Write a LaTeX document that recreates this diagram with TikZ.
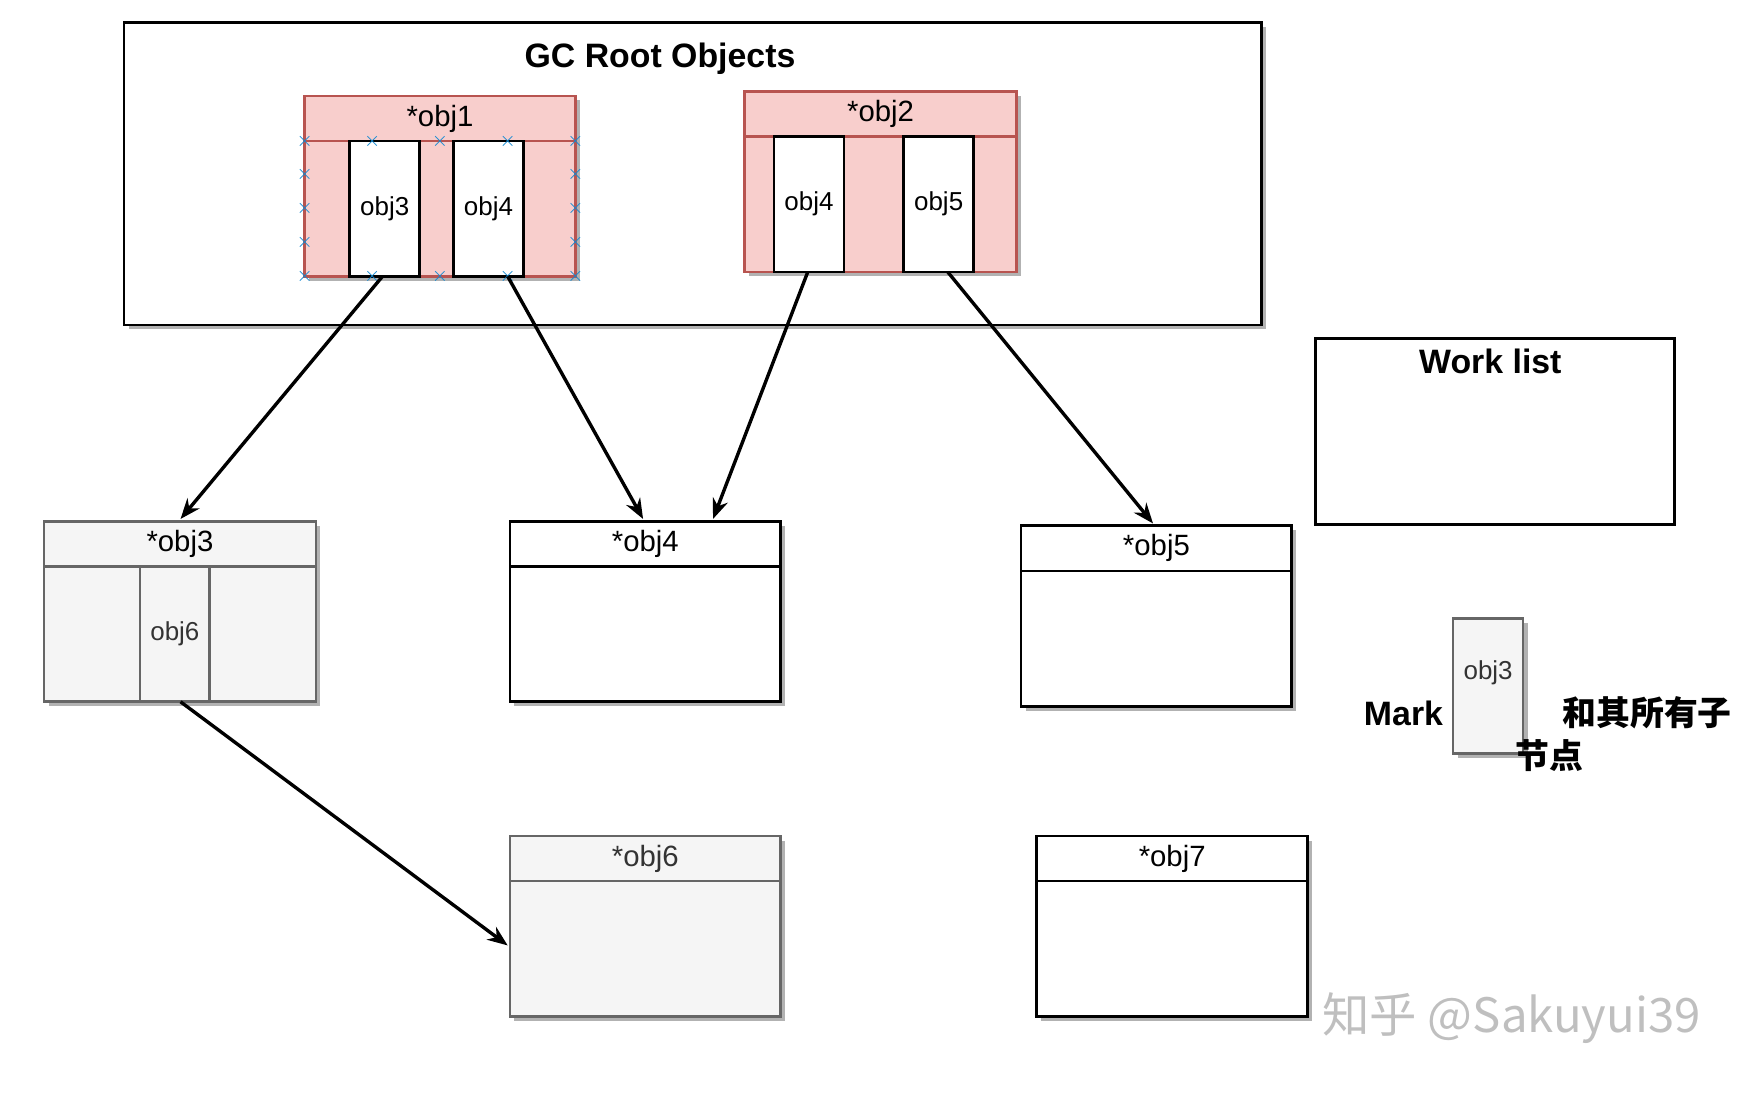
\documentclass[tikz,border=0pt]{standalone}
\usepackage{fontspec}
\setmainfont{Liberation Sans}
\newfontfamily\cjk{Noto Sans CJK SC}
\usetikzlibrary{shadows,arrows.meta}
\definecolor{pinkf}{HTML}{F8CECC}\definecolor{pinkd}{HTML}{B85450}
\definecolor{grayf}{HTML}{F5F5F5}\definecolor{grayd}{HTML}{666666}
\begin{document}
\begin{tikzpicture}[x=0.5pt,y=-0.5pt,
 sh/.style={drop shadow={shadow xshift=2pt,shadow yshift=-2pt,fill=black!30,opacity=1}},
 box/.style={draw,line width=1.2pt,inner sep=0,outer sep=0,anchor=north west},
 hdr/.style={font=\fontsize{13}{15}\selectfont},
 cf/.style={font=\fontsize{11.5}{13}\selectfont},
 arr/.style={-{Stealth[length=9pt,width=7pt]},line width=1.5pt},
 mk/.style={text=cyan!70!blue,font=\fontsize{9}{9}\selectfont,inner sep=0}]
\useasboundingbox (0,0) rectangle (1560,968);
% GC root
\node[box,sh,fill=white,minimum width=504pt,minimum height=134pt] (gc) at (110,20) {};
\node[font=\bfseries\fontsize{15}{17}\selectfont] (gct) at (585,52) {GC Root Objects};
% obj1
\node[box,sh,draw=pinkd,fill=pinkf,minimum width=120pt,minimum height=80pt] (o1) at (270,85) {};
\node[box,draw=pinkd,fill=pinkf,minimum width=120pt,minimum height=20pt,hdr] (o1h) at (270,85) {*obj1};
\node[box,fill=white,minimum width=31pt,minimum height=60pt,cf] (a3) at (310,125) {obj3};
\node[box,fill=white,minimum width=31pt,minimum height=60pt,cf] (a4) at (402,125) {obj4};
\foreach \p in {(270,125),(270,155),(270,185),(270,215),(270,245),(330,125),(330,245),(390,125),(390,245),(450,125),(450,245),(510,125),(510,155),(510,185),(510,215),(510,245)}
  \node[mk] at \p {$\times$};
% obj2
\node[box,sh,draw=pinkd,fill=pinkf,minimum width=120.5pt,minimum height=80pt] (o2) at (660,81) {};
\node[box,draw=pinkd,fill=pinkf,minimum width=120.5pt,minimum height=20pt,hdr] (o2h) at (660,81) {*obj2};
\node[box,fill=white,minimum width=31pt,minimum height=60pt,cf] (b4) at (686,121) {obj4};
\node[box,fill=white,minimum width=31pt,minimum height=60pt,cf] (b5) at (801,121) {obj5};
% work list
\node[box,fill=white,minimum width=159pt,minimum height=82.5pt] (wl) at (1166,300) {};
\node[font=\bfseries\fontsize{15}{17}\selectfont] (wlt) at (1321,320) {Work list};
% objects
\node[box,sh,draw=grayd,fill=grayf,minimum width=120.5pt,minimum height=80pt] (p3) at (39,462) {};
\node[box,draw=grayd,fill=grayf,minimum width=120.5pt,minimum height=20pt,hdr] (p3h) at (39,462) {*obj3};
\node[box,draw=grayd,fill=grayf,minimum width=31pt,minimum height=60pt,cf,text=black!80] (c6) at (124,502) {obj6};
\node[box,sh,fill=white,minimum width=120pt,minimum height=80pt] (p4) at (452,462) {};
\node[box,fill=white,minimum width=120pt,minimum height=20pt,hdr] (p4h) at (452,462) {*obj4};
\node[box,sh,fill=white,minimum width=120pt,minimum height=80pt] (p5) at (905,466) {};
\node[box,fill=white,minimum width=120pt,minimum height=20pt,hdr] (p5h) at (905,466) {*obj5};
\node[box,sh,draw=grayd,fill=grayf,minimum width=120pt,minimum height=80pt] (p6) at (452,741) {};
\node[box,draw=grayd,fill=grayf,minimum width=120pt,minimum height=20pt,hdr,text=black!80] (p6h) at (452,741) {*obj6};
\node[box,sh,fill=white,minimum width=120pt,minimum height=80pt] (p7) at (919,741) {};
\node[box,fill=white,minimum width=120pt,minimum height=20pt,hdr] (p7h) at (919,741) {*obj7};
% legend
\node[box,sh,draw=grayd,fill=grayf,minimum width=31pt,minimum height=60pt,cf,text=black!80,text depth=0pt] (m3) at (1288,548) {\raisebox{14pt}{obj3}};
\node[font=\bfseries\fontsize{15}{17}\selectfont] (mk) at (1244,632) {Mark};
\node[font=\cjk\bfseries\fontsize{15}{17}\selectfont] (zh1) at (1460,632) {和其所有子};
\node[font=\cjk\bfseries\fontsize{15}{17}\selectfont] (zh2) at (1373,670) {节点};
\node[font=\cjk\fontsize{21}{23}\selectfont,text=black!25] (wm) at (1340,902) {知乎 @Sakuyui39};
% arrows
\coordinate (t3) at (160,460); \coordinate (t4a) at (570,460); \coordinate (t4b) at (632,460);
\coordinate (t5) at (1022,464); \coordinate (t6) at (450,838);
\draw[arr] (a3.south) ++(-2,0) -- (t3);
\draw[arr] (a4.south) ++(17,0) -- (t4a);
\draw[arr] (b4.south) ++(-1,0) -- (t4b);
\draw[arr] (b5.south) ++(8,0) -- (t5);
\draw[arr] (c6.south) ++(5,0) -- (t6);
\end{tikzpicture}
\end{document}
